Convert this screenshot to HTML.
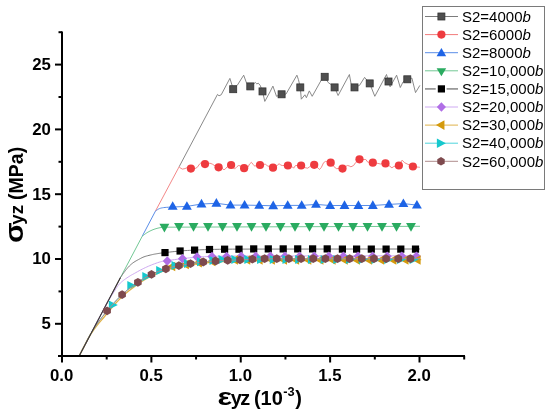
<!DOCTYPE html>
<html><head><meta charset="utf-8"><title>Stress-strain curves</title><style>
html,body{margin:0;padding:0;background:#fff;}
svg{display:block;}
text{font-family:"Liberation Sans", Arial, sans-serif;fill:#000;}
.tk{font-size:16.8px;font-weight:bold;}
.ttl{font-size:20px;font-weight:bold;}
.gk{font-weight:bold;}
.lg{font-size:15px;}
</style></head>
<body><svg width="550" height="417" viewBox="0 0 550 417">
<rect width="550" height="417" fill="#fff"/>
<g><polyline points="179.10,166.80 217.50,94.40 219.00,95.80 221.20,94.80 229.90,78.40 232.10,85.40 233.20,89.20 237.20,85.40 243.70,75.20 246.60,83.20 250.30,86.40 255.40,82.50 256.80,83.90 258.30,83.20 260.20,85.40 262.50,91.40 264.80,101.40 270.00,91.90 272.90,86.10 276.50,96.30 281.60,94.30 286.00,94.10 296.90,75.20 298.40,79.50 300.30,87.40 301.30,99.20 304.90,94.80 306.40,97.70 309.30,90.90 312.20,96.30 321.60,79.50 324.70,76.80 328.20,82.50 331.10,84.60 334.60,87.40 338.10,95.50 349.40,74.50 351.10,83.90 354.50,87.40 359.50,85.40 364.60,77.40 369.70,83.40 374.80,96.30 386.50,74.50 388.50,81.50 390.10,86.80 396.60,75.20 400.30,87.50 403.00,82.00 407.30,79.30 411.90,78.10 415.50,92.60 419.90,85.40" fill="none" stroke="#7c7c7c" stroke-width="0.9" stroke-linejoin="round" stroke-opacity="1.0"/><rect x="229.70" y="85.70" width="7.0" height="7.0" fill="#4f4f4f" stroke="#333" stroke-width="0.8"/><rect x="246.80" y="82.90" width="7.0" height="7.0" fill="#4f4f4f" stroke="#333" stroke-width="0.8"/><rect x="259.00" y="87.90" width="7.0" height="7.0" fill="#4f4f4f" stroke="#333" stroke-width="0.8"/><rect x="278.10" y="90.80" width="7.0" height="7.0" fill="#4f4f4f" stroke="#333" stroke-width="0.8"/><rect x="296.80" y="83.90" width="7.0" height="7.0" fill="#4f4f4f" stroke="#333" stroke-width="0.8"/><rect x="321.20" y="73.30" width="7.0" height="7.0" fill="#4f4f4f" stroke="#333" stroke-width="0.8"/><rect x="331.10" y="83.90" width="7.0" height="7.0" fill="#4f4f4f" stroke="#333" stroke-width="0.8"/><rect x="351.00" y="83.90" width="7.0" height="7.0" fill="#4f4f4f" stroke="#333" stroke-width="0.8"/><rect x="366.20" y="79.90" width="7.0" height="7.0" fill="#4f4f4f" stroke="#333" stroke-width="0.8"/><rect x="385.00" y="78.00" width="7.0" height="7.0" fill="#4f4f4f" stroke="#333" stroke-width="0.8"/><rect x="403.80" y="75.80" width="7.0" height="7.0" fill="#4f4f4f" stroke="#333" stroke-width="0.8"/><polyline points="155.40,211.20 179.10,166.80 180.00,167.70 182.30,169.10 185.00,168.60 186.80,167.70 190.90,168.60 195.00,168.60 197.30,167.30 199.50,164.10 201.40,162.30 205.00,164.10 210.00,163.20 212.30,164.10 215.00,165.90 218.60,167.30 222.70,168.60 224.10,170.00 225.90,168.20 227.30,166.80 231.10,165.00 234.50,169.10 236.80,166.80 238.60,165.50 240.00,165.90 244.10,168.20 247.70,167.70 249.50,164.10 251.40,162.30 253.20,164.50 255.00,166.40 256.40,165.00 260.00,165.00 265.50,164.10 267.30,165.90 269.10,166.40 273.00,167.70 277.30,165.50 279.10,163.60 280.50,165.00 282.30,165.50 287.90,165.50 292.30,166.80 293.60,168.20 295.50,165.50 301.10,165.50 305.00,167.70 307.70,168.20 309.50,166.80 310.90,165.50 314.20,164.80 318.20,168.20 319.50,169.50 321.40,167.30 323.60,162.70 325.50,161.40 330.70,162.70 334.10,166.80 336.40,168.60 342.50,168.60 347.30,165.50 349.10,165.90 350.90,166.80 353.60,165.50 355.50,162.70 359.50,159.30 365.80,159.50 367.70,162.10 372.80,162.70 377.90,163.40 380.50,164.00 385.50,163.40 389.40,165.90 391.90,167.80 393.80,166.50 398.90,165.50 402.10,160.20 404.60,162.70 407.20,164.00 412.90,166.50 418.60,167.20 419.80,167.30" fill="none" stroke="#f27b7b" stroke-width="0.9" stroke-linejoin="round" stroke-opacity="1.0"/><circle cx="190.90" cy="168.60" r="4.1" fill="#ee3b3f"/><circle cx="205.00" cy="164.10" r="4.1" fill="#ee3b3f"/><circle cx="218.60" cy="167.30" r="4.1" fill="#ee3b3f"/><circle cx="231.10" cy="165.00" r="4.1" fill="#ee3b3f"/><circle cx="244.10" cy="168.20" r="4.1" fill="#ee3b3f"/><circle cx="260.00" cy="165.00" r="4.1" fill="#ee3b3f"/><circle cx="273.00" cy="167.70" r="4.1" fill="#ee3b3f"/><circle cx="287.90" cy="165.50" r="4.1" fill="#ee3b3f"/><circle cx="301.10" cy="165.50" r="4.1" fill="#ee3b3f"/><circle cx="314.20" cy="164.80" r="4.1" fill="#ee3b3f"/><circle cx="330.70" cy="162.70" r="4.1" fill="#ee3b3f"/><circle cx="342.50" cy="168.60" r="4.1" fill="#ee3b3f"/><circle cx="359.50" cy="159.30" r="4.1" fill="#ee3b3f"/><circle cx="372.80" cy="162.70" r="4.1" fill="#ee3b3f"/><circle cx="385.50" cy="163.40" r="4.1" fill="#ee3b3f"/><circle cx="398.90" cy="165.50" r="4.1" fill="#ee3b3f"/><circle cx="412.90" cy="166.50" r="4.1" fill="#ee3b3f"/><polyline points="142.20,236.30 155.40,211.20 155.78,210.92 156.29,210.53 156.91,210.07 157.59,209.60 158.29,209.16 159.00,208.80 159.67,208.52 160.33,208.29 161.01,208.09 161.77,207.91 162.66,207.75 163.70,207.60 165.06,207.46 166.71,207.33 168.49,207.22 170.21,207.13 171.67,207.06 172.70,207.00 186.90,206.40 201.50,204.00 216.40,203.30 230.50,205.10 244.60,205.10 259.20,205.40 273.20,205.80 287.70,205.40 301.70,205.40 316.00,204.40 330.10,205.50 344.50,205.50 358.40,205.50 372.80,205.50 389.00,204.40 403.40,203.60 416.90,205.10 420.00,205.80" fill="none" stroke="#5a8ee8" stroke-width="1.0" stroke-linejoin="round" stroke-opacity="1.0"/><polygon points="167.75,209.80 177.65,209.80 172.70,201.20" fill="#1e64e6"/><polygon points="181.95,209.80 191.85,209.80 186.90,201.20" fill="#1e64e6"/><polygon points="196.55,207.40 206.45,207.40 201.50,198.80" fill="#1e64e6"/><polygon points="211.45,206.70 221.35,206.70 216.40,198.10" fill="#1e64e6"/><polygon points="225.55,208.50 235.45,208.50 230.50,199.90" fill="#1e64e6"/><polygon points="239.65,208.50 249.55,208.50 244.60,199.90" fill="#1e64e6"/><polygon points="254.25,208.80 264.15,208.80 259.20,200.20" fill="#1e64e6"/><polygon points="268.25,209.20 278.15,209.20 273.20,200.60" fill="#1e64e6"/><polygon points="282.75,208.80 292.65,208.80 287.70,200.20" fill="#1e64e6"/><polygon points="296.75,208.80 306.65,208.80 301.70,200.20" fill="#1e64e6"/><polygon points="311.05,207.80 320.95,207.80 316.00,199.20" fill="#1e64e6"/><polygon points="325.15,208.90 335.05,208.90 330.10,200.30" fill="#1e64e6"/><polygon points="339.55,208.90 349.45,208.90 344.50,200.30" fill="#1e64e6"/><polygon points="353.45,208.90 363.35,208.90 358.40,200.30" fill="#1e64e6"/><polygon points="367.85,208.90 377.75,208.90 372.80,200.30" fill="#1e64e6"/><polygon points="384.05,207.80 393.95,207.80 389.00,199.20" fill="#1e64e6"/><polygon points="398.45,207.00 408.35,207.00 403.40,198.40" fill="#1e64e6"/><polygon points="411.95,208.50 421.85,208.50 416.90,199.90" fill="#1e64e6"/><polyline points="120.50,277.50 142.20,236.30 142.71,235.90 143.40,235.34 144.22,234.69 145.13,233.99 146.07,233.31 147.00,232.70 147.93,232.15 148.91,231.61 149.93,231.09 150.96,230.59 151.99,230.12 153.00,229.70 154.01,229.32 155.02,228.97 156.03,228.66 157.04,228.37 158.03,228.12 159.00,227.90 160.01,227.71 161.07,227.56 162.12,227.44 163.09,227.34 163.91,227.26 164.50,227.20 420.00,226.30" fill="none" stroke="#72c895" stroke-width="1.0" stroke-linejoin="round" stroke-opacity="1.0"/><polygon points="159.45,223.80 169.35,223.80 164.40,232.60" fill="#2aab60"/><polygon points="174.05,223.00 183.95,223.00 179.00,231.80" fill="#2aab60"/><polygon points="188.55,223.00 198.45,223.00 193.50,231.80" fill="#2aab60"/><polygon points="203.05,223.00 212.95,223.00 208.00,231.80" fill="#2aab60"/><polygon points="217.55,223.00 227.45,223.00 222.50,231.80" fill="#2aab60"/><polygon points="232.05,223.00 241.95,223.00 237.00,231.80" fill="#2aab60"/><polygon points="246.55,223.00 256.45,223.00 251.50,231.80" fill="#2aab60"/><polygon points="261.05,223.00 270.95,223.00 266.00,231.80" fill="#2aab60"/><polygon points="275.55,223.00 285.45,223.00 280.50,231.80" fill="#2aab60"/><polygon points="290.05,223.00 299.95,223.00 295.00,231.80" fill="#2aab60"/><polygon points="304.55,223.00 314.45,223.00 309.50,231.80" fill="#2aab60"/><polygon points="319.05,223.00 328.95,223.00 324.00,231.80" fill="#2aab60"/><polygon points="333.55,223.00 343.45,223.00 338.50,231.80" fill="#2aab60"/><polygon points="348.05,223.00 357.95,223.00 353.00,231.80" fill="#2aab60"/><polygon points="362.55,223.00 372.45,223.00 367.50,231.80" fill="#2aab60"/><polygon points="377.05,223.00 386.95,223.00 382.00,231.80" fill="#2aab60"/><polygon points="391.55,223.00 401.45,223.00 396.50,231.80" fill="#2aab60"/><polygon points="406.05,223.00 415.95,223.00 411.00,231.80" fill="#2aab60"/><polyline points="79.05,356.20 120.50,277.50 120.88,276.94 121.40,276.16 122.02,275.24 122.70,274.25 123.41,273.24 124.10,272.30 124.80,271.38 125.53,270.44 126.29,269.48 127.06,268.54 127.83,267.64 128.60,266.80 129.35,266.03 130.10,265.30 130.84,264.61 131.60,263.95 132.39,263.32 133.20,262.70 134.05,262.11 134.94,261.55 135.84,261.01 136.76,260.50 137.68,259.99 138.60,259.50 139.49,259.01 140.36,258.54 141.23,258.07 142.13,257.63 143.08,257.20 144.10,256.80 145.22,256.42 146.44,256.05 147.70,255.71 148.97,255.38 150.22,255.08 151.40,254.80 152.50,254.55 153.54,254.33 154.55,254.14 155.56,253.96 156.60,253.78 157.70,253.60 158.77,253.43 159.77,253.27 160.80,253.12 161.95,252.97 163.32,252.80 165.00,252.60 167.07,252.36 169.48,252.09 172.10,251.79 174.82,251.50 177.53,251.23 180.10,251.00 182.55,250.81 184.96,250.64 187.36,250.49 189.76,250.35 192.17,250.22 194.60,250.10 197.06,249.98 199.53,249.87 202.01,249.76 204.50,249.67 207.00,249.58 209.50,249.50 212.01,249.43 214.54,249.37 217.08,249.32 219.61,249.27 222.12,249.23 224.60,249.20 227.21,249.17 229.99,249.15 232.74,249.13 235.29,249.12 237.44,249.11 239.00,249.10 420.00,249.00" fill="none" stroke="#7a7a7a" stroke-width="1.0" stroke-linejoin="round" stroke-opacity="1.0"/><rect x="161.40" y="249.00" width="7.2" height="7.2" fill="#000000"/><rect x="176.50" y="247.40" width="7.2" height="7.2" fill="#000000"/><rect x="191.00" y="246.50" width="7.2" height="7.2" fill="#000000"/><rect x="205.90" y="245.90" width="7.2" height="7.2" fill="#000000"/><rect x="221.00" y="245.60" width="7.2" height="7.2" fill="#000000"/><rect x="235.40" y="245.60" width="7.2" height="7.2" fill="#000000"/><rect x="250.10" y="245.30" width="7.2" height="7.2" fill="#000000"/><rect x="264.70" y="245.30" width="7.2" height="7.2" fill="#000000"/><rect x="279.60" y="245.30" width="7.2" height="7.2" fill="#000000"/><rect x="294.10" y="245.30" width="7.2" height="7.2" fill="#000000"/><rect x="309.00" y="245.30" width="7.2" height="7.2" fill="#000000"/><rect x="323.60" y="245.30" width="7.2" height="7.2" fill="#000000"/><rect x="338.80" y="245.50" width="7.2" height="7.2" fill="#000000"/><rect x="353.00" y="245.50" width="7.2" height="7.2" fill="#000000"/><rect x="367.70" y="245.50" width="7.2" height="7.2" fill="#000000"/><rect x="382.50" y="245.50" width="7.2" height="7.2" fill="#000000"/><rect x="397.20" y="245.50" width="7.2" height="7.2" fill="#000000"/><rect x="411.90" y="245.50" width="7.2" height="7.2" fill="#000000"/><polyline points="79.05,356.20 108.00,301.20 108.72,300.07 109.74,298.47 110.93,296.60 112.19,294.64 113.38,292.77 114.40,291.20 115.23,289.90 115.96,288.73 116.64,287.66 117.29,286.67 117.97,285.72 118.70,284.80 119.48,283.93 120.27,283.12 121.08,282.37 121.91,281.64 122.78,280.93 123.70,280.20 124.71,279.44 125.82,278.65 126.96,277.87 128.08,277.14 129.11,276.47 130.00,275.90 130.64,275.49 131.08,275.23 131.42,275.04 131.81,274.84 132.36,274.56 133.20,274.10 134.38,273.44 135.80,272.64 137.38,271.74 139.05,270.82 140.72,269.92 142.30,269.10 143.82,268.35 145.33,267.63 146.85,266.94 148.37,266.27 149.88,265.62 151.40,265.00 152.94,264.39 154.52,263.79 156.09,263.22 157.64,262.69 159.12,262.21 160.50,261.80 161.67,261.49 162.63,261.28 163.52,261.13 164.50,260.99 165.71,260.82 167.30,260.60 169.36,260.31 171.77,259.97 174.42,259.61 177.17,259.25 179.91,258.91 182.50,258.60 184.95,258.32 187.37,258.07 189.76,257.82 192.16,257.60 194.56,257.39 197.00,257.20 199.47,257.03 201.95,256.87 204.44,256.73 206.95,256.61 209.47,256.50 212.00,256.40 214.55,256.32 217.13,256.26 219.73,256.21 222.31,256.17 224.88,256.13 227.40,256.10 230.05,256.07 232.87,256.05 235.66,256.03 238.24,256.02 240.42,256.01 242.00,256.00 420.00,255.80" fill="none" stroke="#cfaaf2" stroke-width="1.0" stroke-linejoin="round" stroke-opacity="1.0"/><polygon points="167.30,256.20 171.90,261.00 167.30,265.80 162.70,261.00" fill="#b06ee6"/><polygon points="182.50,253.90 187.10,258.70 182.50,263.50 177.90,258.70" fill="#b06ee6"/><polygon points="197.00,252.20 201.60,257.00 197.00,261.80 192.40,257.00" fill="#b06ee6"/><polygon points="212.00,251.80 216.60,256.60 212.00,261.40 207.40,256.60" fill="#b06ee6"/><polygon points="226.60,251.80 231.20,256.60 226.60,261.40 222.00,256.60" fill="#b06ee6"/><polygon points="241.20,251.50 245.80,256.30 241.20,261.10 236.60,256.30" fill="#b06ee6"/><polygon points="255.80,251.50 260.40,256.30 255.80,261.10 251.20,256.30" fill="#b06ee6"/><polygon points="270.40,251.50 275.00,256.30 270.40,261.10 265.80,256.30" fill="#b06ee6"/><polygon points="285.00,251.50 289.60,256.30 285.00,261.10 280.40,256.30" fill="#b06ee6"/><polygon points="299.60,251.50 304.20,256.30 299.60,261.10 295.00,256.30" fill="#b06ee6"/><polygon points="314.20,251.50 318.80,256.30 314.20,261.10 309.60,256.30" fill="#b06ee6"/><polygon points="328.80,251.50 333.40,256.30 328.80,261.10 324.20,256.30" fill="#b06ee6"/><polygon points="343.40,251.50 348.00,256.30 343.40,261.10 338.80,256.30" fill="#b06ee6"/><polygon points="358.00,251.50 362.60,256.30 358.00,261.10 353.40,256.30" fill="#b06ee6"/><polygon points="372.60,251.50 377.20,256.30 372.60,261.10 368.00,256.30" fill="#b06ee6"/><polygon points="387.20,251.50 391.80,256.30 387.20,261.10 382.60,256.30" fill="#b06ee6"/><polygon points="401.80,251.50 406.40,256.30 401.80,261.10 397.20,256.30" fill="#b06ee6"/><polygon points="416.40,251.50 421.00,256.30 416.40,261.10 411.80,256.30" fill="#b06ee6"/><polyline points="79.05,356.20 80.57,353.27 82.66,349.14 85.14,344.29 87.82,339.18 90.55,334.30 93.33,330.28 95.91,326.85 98.46,323.67 101.00,320.67 103.53,317.80 105.90,314.84 108.30,311.90 110.74,308.98 113.20,306.11 115.69,303.32 118.21,300.63 120.74,298.05 123.30,295.60 125.91,293.27 128.59,291.04 131.29,288.93 133.97,286.93 136.58,285.05 139.10,283.30 141.48,281.70 143.77,280.26 145.99,278.93 148.19,277.70 150.41,276.53 152.70,275.40 155.07,274.31 157.49,273.27 159.94,272.31 162.37,271.40 164.77,270.57 167.10,269.80 169.36,269.11 171.59,268.51 173.77,267.98 175.92,267.49 178.03,267.04 180.10,266.60 182.10,266.19 184.03,265.83 185.92,265.50 187.80,265.19 189.72,264.90 191.70,264.60 193.76,264.30 195.86,264.01 198.00,263.74 200.15,263.47 202.29,263.23 204.40,263.00 206.49,262.80 208.57,262.61 210.64,262.44 212.70,262.29 214.75,262.14 216.80,262.00 218.83,261.86 220.85,261.73 222.86,261.61 224.86,261.50 226.88,261.40 228.90,261.30 230.94,261.22 232.98,261.16 235.03,261.10 237.09,261.04 239.14,260.98 241.20,260.90 243.26,260.80 245.33,260.68 247.41,260.55 249.48,260.42 251.54,260.30 253.60,260.20 255.79,260.11 258.13,260.03 260.48,259.96 262.64,259.89 264.48,259.84 265.80,259.80 421.20,259.60" fill="none" stroke="#dfb24a" stroke-width="1.4" stroke-linejoin="round" stroke-opacity="1.0"/><polygon points="175.25,261.65 175.25,271.15 166.75,266.40" fill="#d49a0c"/><polygon points="188.85,259.85 188.85,269.35 180.35,264.60" fill="#d49a0c"/><polygon points="201.85,258.05 201.85,267.55 193.35,262.80" fill="#d49a0c"/><polygon points="215.25,256.65 215.25,266.15 206.75,261.40" fill="#d49a0c"/><polygon points="237.95,255.15 237.95,264.65 229.45,259.90" fill="#d49a0c"/><polygon points="250.25,255.15 250.25,264.65 241.75,259.90" fill="#d49a0c"/><polygon points="262.65,255.15 262.65,264.65 254.15,259.90" fill="#d49a0c"/><polygon points="274.85,255.15 274.85,264.65 266.35,259.90" fill="#d49a0c"/><polygon points="287.00,255.15 287.00,264.65 278.50,259.90" fill="#d49a0c"/><polygon points="299.15,255.15 299.15,264.65 290.65,259.90" fill="#d49a0c"/><polygon points="311.30,255.15 311.30,264.65 302.80,259.90" fill="#d49a0c"/><polygon points="323.45,255.15 323.45,264.65 314.95,259.90" fill="#d49a0c"/><polygon points="335.60,255.15 335.60,264.65 327.10,259.90" fill="#d49a0c"/><polygon points="347.75,255.15 347.75,264.65 339.25,259.90" fill="#d49a0c"/><polygon points="359.90,255.15 359.90,264.65 351.40,259.90" fill="#d49a0c"/><polygon points="372.05,255.15 372.05,264.65 363.55,259.90" fill="#d49a0c"/><polygon points="384.20,255.15 384.20,264.65 375.70,259.90" fill="#d49a0c"/><polygon points="396.35,255.15 396.35,264.65 387.85,259.90" fill="#d49a0c"/><polygon points="408.50,255.15 408.50,264.65 400.00,259.90" fill="#d49a0c"/><polygon points="420.65,255.15 420.65,264.65 412.15,259.90" fill="#d49a0c"/><polyline points="79.05,356.20 80.57,353.27 82.66,349.14 85.14,344.29 87.82,339.18 90.50,334.26 93.00,330.00 95.33,326.37 97.66,323.00 99.98,319.83 102.33,316.80 104.70,313.84 107.10,310.90 109.54,307.98 112.00,305.11 114.49,302.32 117.01,299.63 119.54,297.05 122.10,294.60 124.71,292.27 127.39,290.04 130.09,287.93 132.77,285.93 135.38,284.05 137.90,282.30 140.28,280.70 142.57,279.26 144.79,277.93 146.99,276.70 149.21,275.53 151.50,274.40 153.87,273.31 156.29,272.27 158.74,271.31 161.17,270.40 163.57,269.57 165.90,268.80 168.16,268.11 170.39,267.51 172.57,266.98 174.72,266.49 176.83,266.04 178.90,265.60 180.90,265.19 182.83,264.83 184.72,264.50 186.60,264.19 188.52,263.90 190.50,263.60 192.56,263.30 194.66,263.01 196.80,262.74 198.95,262.47 201.09,262.23 203.20,262.00 205.29,261.80 207.37,261.61 209.44,261.44 211.50,261.29 213.55,261.14 215.60,261.00 217.63,260.86 219.65,260.73 221.66,260.61 223.66,260.50 225.68,260.40 227.70,260.30 229.74,260.22 231.78,260.16 233.83,260.10 235.89,260.04 237.94,259.98 240.00,259.90 242.06,259.80 244.13,259.68 246.21,259.55 248.28,259.42 250.34,259.30 252.40,259.20 254.59,259.11 256.93,259.03 259.28,258.96 261.44,258.89 263.28,258.84 264.60,258.80 420.00,258.60" fill="none" stroke="#4fd4dc" stroke-width="1.0" stroke-linejoin="round" stroke-opacity="1.0"/><polygon points="108.80,300.50 108.80,309.50 117.80,305.00" fill="#16c8cd"/><polygon points="127.30,281.10 127.30,290.10 136.30,285.60" fill="#16c8cd"/><polygon points="142.30,272.10 142.30,281.10 151.30,276.60" fill="#16c8cd"/><polygon points="156.20,266.00 156.20,275.00 165.20,270.50" fill="#16c8cd"/><polygon points="171.50,261.10 171.50,270.10 180.50,265.60" fill="#16c8cd"/><polygon points="184.00,258.90 184.00,267.90 193.00,263.40" fill="#16c8cd"/><polygon points="197.00,257.30 197.00,266.30 206.00,261.80" fill="#16c8cd"/><polygon points="209.50,256.10 209.50,265.10 218.50,260.60" fill="#16c8cd"/><polygon points="218.44,254.90 218.44,263.90 227.44,259.40" fill="#16c8cd"/><polygon points="231.31,254.90 231.31,263.90 240.31,259.40" fill="#16c8cd"/><polygon points="244.29,254.90 244.29,263.90 253.29,259.40" fill="#16c8cd"/><polygon points="257.05,254.90 257.05,263.90 266.05,259.40" fill="#16c8cd"/><polygon points="269.77,254.90 269.77,263.90 278.77,259.40" fill="#16c8cd"/><polygon points="282.48,254.90 282.48,263.90 291.48,259.40" fill="#16c8cd"/><polygon points="295.20,254.90 295.20,263.90 304.20,259.40" fill="#16c8cd"/><polygon points="307.91,254.90 307.91,263.90 316.91,259.40" fill="#16c8cd"/><polygon points="320.63,254.90 320.63,263.90 329.63,259.40" fill="#16c8cd"/><polygon points="333.34,254.90 333.34,263.90 342.34,259.40" fill="#16c8cd"/><polygon points="346.06,254.90 346.06,263.90 355.06,259.40" fill="#16c8cd"/><polygon points="358.77,254.90 358.77,263.90 367.77,259.40" fill="#16c8cd"/><polygon points="371.49,254.90 371.49,263.90 380.49,259.40" fill="#16c8cd"/><polygon points="384.20,254.90 384.20,263.90 393.20,259.40" fill="#16c8cd"/><polygon points="396.92,254.90 396.92,263.90 405.92,259.40" fill="#16c8cd"/><polygon points="409.63,254.90 409.63,263.90 418.63,259.40" fill="#16c8cd"/><polyline points="79.05,356.20 80.57,353.27 82.66,349.14 85.14,344.29 87.82,339.18 90.50,334.26 93.00,330.00 95.33,326.37 97.66,323.00 99.98,319.83 102.33,316.80 104.70,313.84 107.10,310.90 109.54,307.98 112.00,305.11 114.49,302.32 117.01,299.63 119.54,297.05 122.10,294.60 124.71,292.27 127.39,290.04 130.09,287.93 132.77,285.93 135.38,284.05 137.90,282.30 140.28,280.70 142.57,279.26 144.79,277.93 146.99,276.70 149.21,275.53 151.50,274.40 153.87,273.31 156.29,272.27 158.74,271.31 161.17,270.40 163.57,269.57 165.90,268.80 168.16,268.11 170.39,267.51 172.57,266.98 174.72,266.49 176.83,266.04 178.90,265.60 180.90,265.19 182.83,264.83 184.72,264.50 186.60,264.19 188.52,263.90 190.50,263.60 192.56,263.30 194.66,263.01 196.80,262.74 198.95,262.47 201.09,262.23 203.20,262.00 205.29,261.80 207.37,261.61 209.44,261.44 211.50,261.29 213.55,261.14 215.60,261.00 217.63,260.86 219.65,260.73 221.66,260.61 223.66,260.50 225.68,260.40 227.70,260.30 229.74,260.22 231.78,260.16 233.83,260.10 235.89,260.04 237.94,259.98 240.00,259.90 242.06,259.80 244.13,259.68 246.21,259.55 248.28,259.42 250.34,259.30 252.40,259.20 254.59,259.11 256.93,259.03 259.28,258.96 261.44,258.89 263.28,258.84 264.60,258.80 420.00,258.60" fill="none" stroke="#b08c8c" stroke-width="1.0" stroke-linejoin="round" stroke-opacity="1.0"/><polyline points="79.05,356.20 120.50,277.50" fill="none" stroke="#3a3434" stroke-width="1.1" stroke-linejoin="round" stroke-opacity="1.0"/><polygon points="107.10,306.50 103.29,308.70 103.29,313.10 107.10,315.30 110.91,313.10 110.91,308.70" fill="#7e4a4e"/><polygon points="122.10,290.20 118.29,292.40 118.29,296.80 122.10,299.00 125.91,296.80 125.91,292.40" fill="#7e4a4e"/><polygon points="137.90,277.90 134.09,280.10 134.09,284.50 137.90,286.70 141.71,284.50 141.71,280.10" fill="#7e4a4e"/><polygon points="151.50,270.00 147.69,272.20 147.69,276.60 151.50,278.80 155.31,276.60 155.31,272.20" fill="#7e4a4e"/><polygon points="165.90,264.40 162.09,266.60 162.09,271.00 165.90,273.20 169.71,271.00 169.71,266.60" fill="#7e4a4e"/><polygon points="178.90,261.20 175.09,263.40 175.09,267.80 178.90,270.00 182.71,267.80 182.71,263.40" fill="#7e4a4e"/><polygon points="190.50,259.20 186.69,261.40 186.69,265.80 190.50,268.00 194.31,265.80 194.31,261.40" fill="#7e4a4e"/><polygon points="203.20,257.60 199.39,259.80 199.39,264.20 203.20,266.40 207.01,264.20 207.01,259.80" fill="#7e4a4e"/><polygon points="215.60,256.60 211.79,258.80 211.79,263.20 215.60,265.40 219.41,263.20 219.41,258.80" fill="#7e4a4e"/><polygon points="227.70,255.90 223.89,258.10 223.89,262.50 227.70,264.70 231.51,262.50 231.51,258.10" fill="#7e4a4e"/><polygon points="240.00,255.50 236.19,257.70 236.19,262.10 240.00,264.30 243.81,262.10 243.81,257.70" fill="#7e4a4e"/><polygon points="252.40,254.80 248.59,257.00 248.59,261.40 252.40,263.60 256.21,261.40 256.21,257.00" fill="#7e4a4e"/><polygon points="264.60,254.30 260.79,256.50 260.79,260.90 264.60,263.10 268.41,260.90 268.41,256.50" fill="#7e4a4e"/><polygon points="276.75,254.30 272.94,256.50 272.94,260.90 276.75,263.10 280.56,260.90 280.56,256.50" fill="#7e4a4e"/><polygon points="288.90,254.30 285.09,256.50 285.09,260.90 288.90,263.10 292.71,260.90 292.71,256.50" fill="#7e4a4e"/><polygon points="301.05,254.30 297.24,256.50 297.24,260.90 301.05,263.10 304.86,260.90 304.86,256.50" fill="#7e4a4e"/><polygon points="313.20,254.30 309.39,256.50 309.39,260.90 313.20,263.10 317.01,260.90 317.01,256.50" fill="#7e4a4e"/><polygon points="325.35,254.30 321.54,256.50 321.54,260.90 325.35,263.10 329.16,260.90 329.16,256.50" fill="#7e4a4e"/><polygon points="337.50,254.30 333.69,256.50 333.69,260.90 337.50,263.10 341.31,260.90 341.31,256.50" fill="#7e4a4e"/><polygon points="349.65,254.30 345.84,256.50 345.84,260.90 349.65,263.10 353.46,260.90 353.46,256.50" fill="#7e4a4e"/><polygon points="361.80,254.30 357.99,256.50 357.99,260.90 361.80,263.10 365.61,260.90 365.61,256.50" fill="#7e4a4e"/><polygon points="373.95,254.30 370.14,256.50 370.14,260.90 373.95,263.10 377.76,260.90 377.76,256.50" fill="#7e4a4e"/><polygon points="386.10,254.30 382.29,256.50 382.29,260.90 386.10,263.10 389.91,260.90 389.91,256.50" fill="#7e4a4e"/><polygon points="398.25,254.30 394.44,256.50 394.44,260.90 398.25,263.10 402.06,260.90 402.06,256.50" fill="#7e4a4e"/><polygon points="410.40,254.30 406.59,256.50 406.59,260.90 410.40,263.10 414.21,260.90 414.21,256.50" fill="#7e4a4e"/></g>
<g><line x1="62" y1="31.5" x2="62" y2="362.5" stroke="#000" stroke-width="2"/><line x1="58" y1="356" x2="465" y2="356" stroke="#000" stroke-width="2"/><line x1="55" y1="323.80" x2="62" y2="323.80" stroke="#000" stroke-width="2"/><line x1="55" y1="259.00" x2="62" y2="259.00" stroke="#000" stroke-width="2"/><line x1="55" y1="194.20" x2="62" y2="194.20" stroke="#000" stroke-width="2"/><line x1="55" y1="129.40" x2="62" y2="129.40" stroke="#000" stroke-width="2"/><line x1="55" y1="64.60" x2="62" y2="64.60" stroke="#000" stroke-width="2"/><line x1="58.5" y1="291.40" x2="62" y2="291.40" stroke="#000" stroke-width="2"/><line x1="58.5" y1="226.60" x2="62" y2="226.60" stroke="#000" stroke-width="2"/><line x1="58.5" y1="161.80" x2="62" y2="161.80" stroke="#000" stroke-width="2"/><line x1="58.5" y1="97.00" x2="62" y2="97.00" stroke="#000" stroke-width="2"/><line x1="58.5" y1="32.20" x2="62" y2="32.20" stroke="#000" stroke-width="2"/><line x1="151.38" y1="356" x2="151.38" y2="362.5" stroke="#000" stroke-width="2"/><line x1="240.75" y1="356" x2="240.75" y2="362.5" stroke="#000" stroke-width="2"/><line x1="330.12" y1="356" x2="330.12" y2="362.5" stroke="#000" stroke-width="2"/><line x1="419.50" y1="356" x2="419.50" y2="362.5" stroke="#000" stroke-width="2"/><line x1="106.69" y1="356" x2="106.69" y2="359.5" stroke="#000" stroke-width="2"/><line x1="196.06" y1="356" x2="196.06" y2="359.5" stroke="#000" stroke-width="2"/><line x1="285.44" y1="356" x2="285.44" y2="359.5" stroke="#000" stroke-width="2"/><line x1="374.81" y1="356" x2="374.81" y2="359.5" stroke="#000" stroke-width="2"/><line x1="464.19" y1="356" x2="464.19" y2="359.5" stroke="#000" stroke-width="2"/></g>
<g><text x="50.8" y="329.20" text-anchor="end" class="tk">5</text><text x="50.8" y="264.40" text-anchor="end" class="tk">10</text><text x="50.8" y="199.60" text-anchor="end" class="tk">15</text><text x="50.8" y="134.80" text-anchor="end" class="tk">20</text><text x="50.8" y="70.00" text-anchor="end" class="tk">25</text><text x="61.70" y="380.6" text-anchor="middle" class="tk">0.0</text><text x="151.07" y="380.6" text-anchor="middle" class="tk">0.5</text><text x="240.45" y="380.6" text-anchor="middle" class="tk">1.0</text><text x="329.82" y="380.6" text-anchor="middle" class="tk">1.5</text><text x="419.20" y="380.6" text-anchor="middle" class="tk">2.0</text><text transform="translate(217.6,404.6) scale(1.28,1)" class="ttl" style="font-size:24px">ε</text><text x="230.8" y="404.6" class="ttl">y<tspan x="240.3">z</tspan><tspan x="253.9">(10</tspan><tspan x="283.2" y="395.6" font-size="12.8px">-3</tspan><tspan x="295.2" y="404.6">)</tspan></text><text transform="translate(22.6,243.0) rotate(-90) scale(1.14,1)" class="ttl" style="font-size:26.5px">σ</text><text transform="translate(22.6,224.8) rotate(-90)" class="ttl" style="font-size:18.8px">yz</text><text transform="translate(22.6,146.8) rotate(-90)" text-anchor="end" class="ttl" style="font-size:19.5px">(MPa)</text></g>
<g><rect x="422.5" y="6.5" width="122" height="183" fill="#fff" stroke="#7a7a7a" stroke-width="1"/><line x1="425" y1="16.50" x2="458" y2="16.50" stroke="#7c7c7c" stroke-width="1.0"/><rect x="437.90" y="13.00" width="7.0" height="7.0" fill="#4f4f4f" stroke="#333" stroke-width="0.8"/><text x="462" y="21.70" class="lg">S2=4000<tspan font-style="italic">b</tspan></text><line x1="425" y1="34.60" x2="458" y2="34.60" stroke="#f27b7b" stroke-width="1.0"/><circle cx="441.40" cy="34.60" r="4.1" fill="#ee3b3f"/><text x="462" y="39.80" class="lg">S2=6000<tspan font-style="italic">b</tspan></text><line x1="425" y1="52.70" x2="458" y2="52.70" stroke="#5a8ee8" stroke-width="1.0"/><polygon points="436.60,56.35 446.20,56.35 441.40,48.05" fill="#1e64e6"/><text x="462" y="57.90" class="lg">S2=8000<tspan font-style="italic">b</tspan></text><line x1="425" y1="70.80" x2="458" y2="70.80" stroke="#72c895" stroke-width="1.0"/><polygon points="436.60,68.30 446.20,68.30 441.40,76.30" fill="#2aab60"/><text x="462" y="76.00" class="lg">S2=10,000<tspan font-style="italic">b</tspan></text><line x1="425" y1="88.90" x2="435.7" y2="88.90" stroke="#9a9a9a" stroke-width="1.8"/><line x1="446.6" y1="88.90" x2="458" y2="88.90" stroke="#9a9a9a" stroke-width="1.8"/><rect x="437.80" y="85.30" width="7.2" height="7.2" fill="#000000"/><text x="462" y="94.10" class="lg">S2=15,000<tspan font-style="italic">b</tspan></text><line x1="425" y1="107.00" x2="458" y2="107.00" stroke="#cfaaf2" stroke-width="1.0"/><polygon points="441.40,102.20 446.00,107.00 441.40,111.80 436.80,107.00" fill="#b06ee6"/><text x="462" y="112.20" class="lg">S2=20,000<tspan font-style="italic">b</tspan></text><line x1="425" y1="125.10" x2="458" y2="125.10" stroke="#dfb24a" stroke-width="1.0"/><polygon points="444.45,120.15 444.45,130.05 435.95,125.10" fill="#d49a0c"/><text x="462" y="130.30" class="lg">S2=30,000<tspan font-style="italic">b</tspan></text><line x1="425" y1="143.20" x2="458" y2="143.20" stroke="#4fd4dc" stroke-width="1.0"/><polygon points="436.90,138.50 436.90,147.90 445.90,143.20" fill="#16c8cd"/><text x="462" y="148.40" class="lg">S2=40,000<tspan font-style="italic">b</tspan></text><line x1="425" y1="161.30" x2="458" y2="161.30" stroke="#b08c8c" stroke-width="1.0"/><polygon points="441.00,157.00 437.28,159.15 437.28,163.45 441.00,165.60 444.72,163.45 444.72,159.15" fill="#7e4a4e"/><text x="462" y="166.50" class="lg">S2=60,000<tspan font-style="italic">b</tspan></text></g>
</svg></body></html>
